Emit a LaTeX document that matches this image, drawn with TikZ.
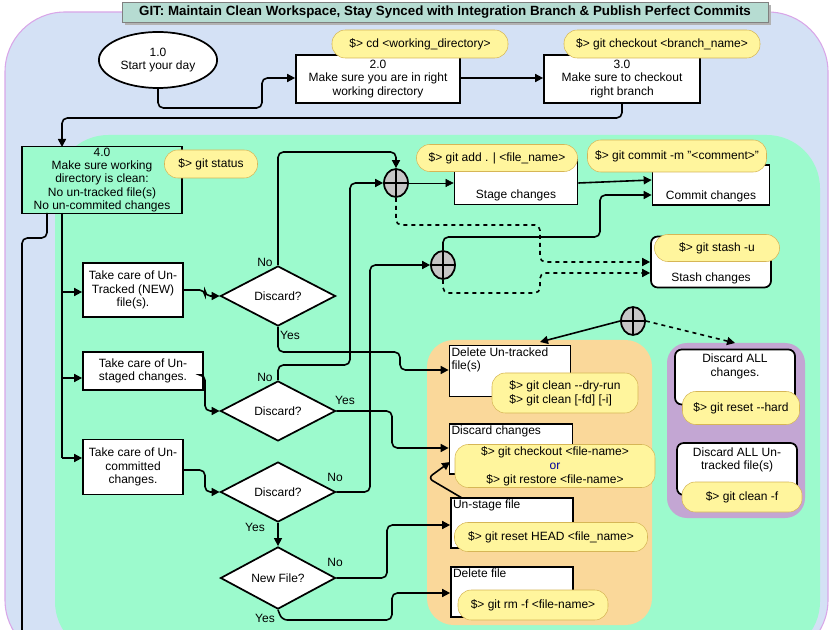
\documentclass[tikz,border=0pt]{standalone}
\usepackage{fontspec}
\setmainfont{Liberation Sans}
\usetikzlibrary{shapes.geometric,arrows.meta,positioning,calc}
\definecolor{bgblue}{HTML}{D4E1F5}
\definecolor{bgline}{HTML}{D9A6E8}
\definecolor{bggreen}{HTML}{9CFACD}
\definecolor{bgorange}{HTML}{FAD89A}
\definecolor{bgpurple}{HTML}{C3A6D3}
\definecolor{tagfill}{HTML}{FFF59D}
\definecolor{tagline}{HTML}{D6B656}
\definecolor{titlefill}{HTML}{B6DCD2}
\def\u{0.75pt}
\tikzset{
  box/.style={draw, line width=1.3pt, fill=white, align=center, inner sep=1pt, font=\fontsize{9}{10}\selectfont},
  tag/.style={draw=tagline, fill=tagfill, rounded corners=10pt, align=center, inner sep=1pt, font=\fontsize{9}{10.5}\selectfont},
  dia/.style={diamond, draw, line width=1.3pt, fill=white, inner sep=0pt, font=\fontsize{9}{10}\selectfont},
  cplus/.style={ellipse, draw, line width=1.3pt, fill=gray!45, minimum width=24*\u, minimum height=28*\u, inner sep=0pt,
    path picture={\draw[line width=1.3pt] (path picture bounding box.north) -- (path picture bounding box.south)
      (path picture bounding box.west) -- (path picture bounding box.east);}},
  link/.style={line width=1.2pt, rounded corners=4pt, -{Triangle[length=6pt,width=6pt]}},
  dlink/.style={link, dashed},
  lbl/.style={font=\fontsize{9}{10}\selectfont},
}
\begin{document}
\begin{tikzpicture}[x=0.75pt,y=-0.75pt]
\useasboundingbox (0,0) rectangle (834,630);
% backgrounds
\draw[bgline, thick, fill=bgblue, rounded corners=45pt] (5,12) rectangle (828,660);
\fill[bggreen, rounded corners=40pt] (55,135) rectangle (820,655);
\fill[bgorange, rounded corners=20pt] (427,340) rectangle (652,625);
\fill[bgpurple, rounded corners=15pt] (667,343) rectangle (805,518);
\fill[gray!60] (125,5) rectangle (771,25);
\node[draw=gray, fill=titlefill, minimum width=646*\u, minimum height=20*\u, inner sep=0pt,
  font=\bfseries\fontsize{10}{11}\selectfont] (title) at (445,12)
  {GIT: Maintain Clean Workspace, Stay Synced with Integration Branch \& Publish Perfect Commits};

% top row
\node[ellipse, draw, line width=1.3pt, fill=white, minimum width=116*\u, minimum height=56*\u, align=center,
  font=\fontsize{9}{10}\selectfont] (start) at (158,60) {1.0\\Start your day};
\node[box, minimum width=164*\u, minimum height=48*\u] (wd) at (378,79) {2.0\\Make sure you are in right\\working directory};
\node[box, minimum width=156*\u, minimum height=48*\u] (br) at (622,79) {3.0\\Make sure to checkout\\right branch};
\node[tag, minimum width=176*\u, minimum height=28*\u] (tcd) at (420,44) {\$> cd <working\_directory>};
\node[tag, minimum width=196*\u, minimum height=28*\u] (tco) at (662,44) {\$> git checkout <branch\_name>};

% clean check
\node[box, fill=bggreen, minimum width=160*\u, minimum height=66*\u] (clean) at (102,180)
  {4.0\\Make sure working\\directory is clean:\\No un-tracked file(s)\\No un-commited changes};
\node[tag, minimum width=93*\u, minimum height=28*\u] (tstat) at (211,164) {\$> git status};

\node[box, minimum width=100*\u, minimum height=54*\u] (untr) at (133,290) {Take care of Un-\\Tracked (NEW)\\file(s).};
\node[box, minimum width=120*\u, minimum height=38*\u] (unst) at (143,371) {Take care of Un-\\staged changes.};
\node[box, minimum width=100*\u, minimum height=55*\u] (unco) at (133,467) {Take care of Un-\\committed\\changes.};
\node[dia, minimum width=115*\u, minimum height=60*\u] (d1) at (278,296) {Discard?};
\node[dia, minimum width=115*\u, minimum height=60*\u] (d2) at (278,411) {Discard?};
\node[dia, minimum width=115*\u, minimum height=60*\u] (d3) at (278,492) {Discard?};
\node[dia, minimum width=115*\u, minimum height=60*\u] (dn) at (278,578) {New File?};

\node[cplus] (c1) at (396,183) {};
\node[cplus] (c2) at (443,265) {};
\node[cplus] (c3) at (633,321) {};

% stage / commit / stash
\node[box, minimum width=123*\u, minimum height=45*\u, label={[anchor=south,inner sep=3pt,lbl]south:Stage changes}] (stage) at (516,182) {};
\node[box, minimum width=117*\u, minimum height=40*\u, label={[anchor=south,inner sep=3pt,lbl]south:Commit changes}] (commit) at (711,185) {};
\node[box, rounded corners=5pt, minimum width=120*\u, minimum height=51*\u, label={[anchor=south,inner sep=3pt,lbl]south:Stash changes}] (stash) at (711,262) {};
\node[tag, minimum width=161*\u, minimum height=27*\u] (tadd) at (497,158) {\$> git add . | <file\_name>};
\node[tag, minimum width=179*\u, minimum height=32*\u] (tcom) at (677,156) {\$> git commit -m "<comment>"};
\node[tag, minimum width=125*\u, minimum height=27*\u] (tstash) at (717,248) {\$> git stash -u};

% discard actions
\node[box, minimum width=121*\u, minimum height=51*\u, label={[anchor=north west,inner sep=2pt,lbl,align=left]north west:Delete Un-tracked\\file(s)}] (delu) at (510,371) {};
\node[box, minimum width=123*\u, minimum height=50*\u, label={[anchor=north west,inner sep=2pt,lbl]north west:Discard changes}] (disc) at (511,449) {};
\node[box, minimum width=122*\u, minimum height=50*\u, label={[anchor=north west,inner sep=2pt,lbl]north west:Un-stage file}] (unstg) at (512,523) {};
\node[box, minimum width=122*\u, minimum height=50*\u, label={[anchor=north west,inner sep=2pt,lbl]north west:Delete file}] (delf) at (512,592) {};
\node[tag, align=left, minimum width=146*\u, minimum height=40*\u] (tclean) at (565,393) {\$> git clean {-}{-}dry-run\\\$> git clean [-fd] [-i]};
\node[tag, minimum width=200*\u, minimum height=43*\u] (tdisc) at (555,466) {\$> git checkout <file-name>\\\textcolor{blue!60!black}{or}\\\$> git restore <file-name>};
\node[tag, minimum width=193*\u, minimum height=29*\u] (treset) at (551,537) {\$> git reset HEAD <file\_name>};
\node[tag, minimum width=150*\u, minimum height=30*\u] (trm) at (533,605) {\$> git rm -f <file-name>};

\node[box, rounded corners=5pt, minimum width=120*\u, minimum height=55*\u, label={[anchor=north,inner sep=4pt,lbl,align=center]north:Discard ALL\\changes.}] (dall) at (735,377) {};
\node[box, rounded corners=5pt, minimum width=120*\u, minimum height=52*\u, label={[anchor=north,inner sep=4pt,lbl,align=center]north:Discard ALL Un-\\tracked file(s)}] (dallu) at (737,469) {};
\node[tag, minimum width=117*\u, minimum height=33*\u] (thard) at (741,408) {\$> git reset {-}{-}hard};
\node[tag, minimum width=120*\u, minimum height=30*\u] (tcf) at (742,497) {\$> git clean -f};

% connectors
\draw[link] (start.south) -- (158,108) -- (262,108) -- (262,78) -- (wd.west |- 0,78);
\draw[link] (wd.east |- 0,78) -- (br.west |- 0,78);
\draw[link] (br.south) -- (622,118) -- (62,118) -- (62,147);
\draw[line width=1.2pt, rounded corners=4pt] (47,213) -- (47,238) -- (22,238) -- (22,640);
\draw[line width=1.2pt] (62,213) -- (62,458);
\draw[link] (62,292) -- (untr.west |- 0,292);
\draw[link] (62,378) -- (unst.west |- 0,378);
\draw[link] (62,458) -- (unco.west |- 0,458);
\draw[link] (untr.east |- 0,290) -- (205,290) -- (205,296) -- (d1.west);
\draw[link] (unst.east |- 0,375) -- (205,375) -- (205,411) -- (d2.west);
\draw[link] (unco.east |- 0,470) -- (205,470) -- (205,492) -- (d3.west);

\draw[link] (d1.north) -- (278,152) -- (396,152) -- (c1.north);
\draw[link] (d1.south) -- (278,352) -- (400,352) -- (400,370) -- (delu.west |- 0,370);
\draw[link] (d2.north) -- (278,365) -- (350,365) -- (350,183) -- (c1.west);
\draw[link] (d2.east) -- (392,411) -- (392,448) -- (disc.west |- 0,448);
\draw[link] (d3.east) -- (370,492) -- (370,265) -- (c2.west);
\draw[link] (d3.south) -- (dn.north);
\draw[link] (dn.east) -- (387,578) -- (387,525) -- (unstg.west |- 0,525);
\draw[link] (dn.south) -- (282,620) -- (392,620) -- (392,593) -- (delf.west |- 0,593);
\draw[link] (462,498) -- (428,478) -- (450,462);

\draw[link, thin] (c1.east) -- (stage.west |- c1);
\draw[link] (stage.east |- 0,183) -- (commit.west |- 0,180);
\draw[link] (c2.north) -- (443,237) -- (600,237) -- (600,195) -- (commit.west |- 0,195);
\draw[dlink] (c1.south) -- (396,225) -- (540,225) -- (540,262) -- (stash.west |- 0,262);
\draw[dlink] (c2.south) -- (443,293) -- (540,293) -- (540,273) -- (stash.west |- 0,273);
\draw[link] (c3.west) -- (540,342);
\draw[dlink] (c3.east) -- (735,343);

% branch labels
\node[lbl] (n1) at (265,262) {No};
\node[lbl] (y1) at (290,335) {Yes};
\node[lbl] (n2) at (265,377) {No};
\node[lbl] (y2) at (345,400) {Yes};
\node[lbl] (n3) at (335,477) {No};
\node[lbl] (y3) at (255,527) {Yes};
\node[lbl] (n4) at (335,562) {No};
\node[lbl] (y4) at (265,618) {Yes};
\end{tikzpicture}
\end{document}
